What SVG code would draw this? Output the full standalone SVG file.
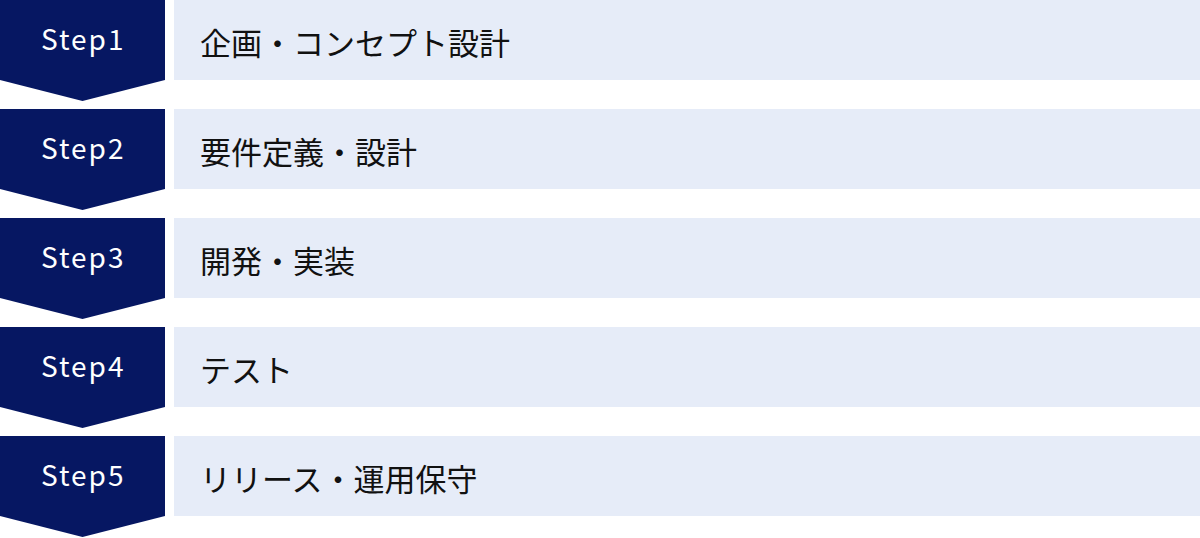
<svg xmlns="http://www.w3.org/2000/svg" width="1200" height="538" viewBox="0 0 1200 538">
<style>
.badge{fill:#061762}
.bar{fill:#E6ECF8}
.step{font-family:"Noto Sans CJK JP","Noto Sans",sans-serif;font-size:28px;font-weight:400;fill:#ffffff;letter-spacing:2px}
.label{font-family:"Noto Sans CJK JP","Noto Sans",sans-serif;font-size:31px;font-weight:400;fill:#111111}
</style>
<rect width="1200" height="538" fill="#ffffff"/>
<g id="step1" transform="translate(0,0)">
<polygon class="badge" points="0,0 165,0 165,80 82.5,101 0,80"/>
<rect class="bar" x="174" y="0" width="1026" height="80"/>
<text class="step" x="41" y="49.5">Step1</text>
<text class="label" x="200" y="55">企画・コンセプト設計</text>
</g>
<g id="step2" transform="translate(0,109)">
<polygon class="badge" points="0,0 165,0 165,80 82.5,101 0,80"/>
<rect class="bar" x="174" y="0" width="1026" height="80"/>
<text class="step" x="41" y="49.5">Step2</text>
<text class="label" x="200" y="55">要件定義・設計</text>
</g>
<g id="step3" transform="translate(0,218)">
<polygon class="badge" points="0,0 165,0 165,80 82.5,101 0,80"/>
<rect class="bar" x="174" y="0" width="1026" height="80"/>
<text class="step" x="41" y="49.5">Step3</text>
<text class="label" x="200" y="55">開発・実装</text>
</g>
<g id="step4" transform="translate(0,327)">
<polygon class="badge" points="0,0 165,0 165,80 82.5,101 0,80"/>
<rect class="bar" x="174" y="0" width="1026" height="80"/>
<text class="step" x="41" y="49.5">Step4</text>
<text class="label" x="200" y="55">テスト</text>
</g>
<g id="step5" transform="translate(0,436)">
<polygon class="badge" points="0,0 165,0 165,80 82.5,101 0,80"/>
<rect class="bar" x="174" y="0" width="1026" height="80"/>
<text class="step" x="41" y="49.5">Step5</text>
<text class="label" x="200" y="55">リリース・運用保守</text>
</g>
<g id="connectors"></g>
</svg>
